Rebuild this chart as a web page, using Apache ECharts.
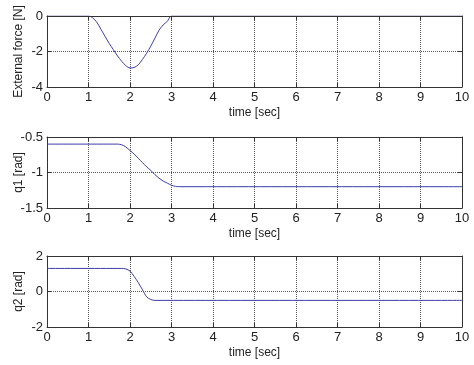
<!DOCTYPE html>
<html>
<head>
<meta charset="utf-8">
<script src="https://cdn.jsdelivr.net/npm/echarts@6/dist/echarts.min.js"></script>
<style>
  html, body { margin: 0; padding: 0; background: #fff; }
  #chart { width: 474px; height: 365px; }
</style>
</head>
<body>
<div id="chart"></div>
<script>
// external force [N]
const forceTime = [0, 1.0, 1.1, 1.2, 1.3, 1.4, 1.5, 1.6, 1.7, 1.8, 1.9, 2.0, 2.1, 2.2, 2.3, 2.4, 2.5, 2.6, 2.7, 2.8, 2.9, 3.0, 10];
const forceValues = [0, 0, -0.1, -0.35, -0.75, -1.15, -1.55, -1.9, -2.25, -2.55, -2.8, -2.93, -2.9, -2.75, -2.45, -2.1, -1.7, -1.25, -0.8, -0.5, -0.3, 0, 0];

// joint 1 [rad]
const q1Time = [0, 1.7, 1.8, 1.9, 2.0, 2.1, 2.2, 2.3, 2.4, 2.5, 2.6, 2.7, 2.8, 2.9, 3.0, 3.1, 3.2, 10];
const q1Values = [-0.6, -0.6, -0.61, -0.64, -0.69, -0.74, -0.8, -0.86, -0.92, -0.97, -1.03, -1.08, -1.12, -1.15, -1.18, -1.195, -1.2, -1.2];

// joint 2 [rad]
const q2Time = [0, 1.8, 1.9, 2.0, 2.1, 2.2, 2.3, 2.4, 2.5, 2.6, 10];
const q2Values = [1.3, 1.3, 1.27, 1.15, 0.85, 0.5, 0.1, -0.3, -0.45, -0.5, -0.5];

const panels = [
  { name: "External force [N]", time: forceTime, values: forceValues, min: -4, max: 0, interval: 2 },
  { name: "q1 [rad]", time: q1Time, values: q1Values, min: -1.5, max: -0.5, interval: 0.5 },
  { name: "q2 [rad]", time: q2Time, values: q2Values, min: -2, max: 2, interval: 2 },
];

const gridTops = [16, 137, 256];
const textColor = "#222";
const lineColor = "#333";
const font = "Liberation Sans, Arial, sans-serif";

const chart = echarts.init(document.getElementById("chart"));

const grid = [];
const xAxis = [];
const yAxis = [];
const series = [];

panels.forEach((p, i) => {
  grid.push({ left: 47, right: 12, top: gridTops[i], height: 71, outerBoundsMode: "none", containLabel: false });

  // bottom x axis
  xAxis.push({
    type: "value",
    gridIndex: i,
    position: "bottom",
    min: 0,
    max: 10,
    interval: 1,
    name: "time [sec]",
    nameLocation: "middle",
    nameGap: 20,
    nameMoveOverlap: false,
    nameTextStyle: { color: textColor, fontSize: 12, fontFamily: font },
    axisLine: { onZero: false, lineStyle: { color: lineColor, width: 1 } },
    axisTick: { inside: true, length: 4, lineStyle: { color: lineColor } },
    axisLabel: { color: textColor, fontSize: 13, fontFamily: font, margin: 4 },
    splitLine: { show: true, lineStyle: { color: "#555", type: "dotted", width: 1 } },
  });
  // top x axis (box)
  xAxis.push({
    type: "value",
    gridIndex: i,
    position: "top",
    min: 0,
    max: 10,
    interval: 1,
    z: 5,
    axisLine: { onZero: false, lineStyle: { color: lineColor, width: 1 } },
    axisTick: { inside: true, length: 4, lineStyle: { color: lineColor } },
    axisLabel: { show: false },
    splitLine: { show: false },
  });

  // left y axis
  yAxis.push({
    type: "value",
    gridIndex: i,
    position: "left",
    min: p.min,
    max: p.max,
    interval: p.interval,
    name: p.name,
    nameLocation: "middle",
    nameRotate: 90,
    nameGap: 22,
    nameMoveOverlap: false,
    nameTextStyle: { color: textColor, fontSize: 12, fontFamily: font },
    axisLine: { show: true, onZero: false, lineStyle: { color: lineColor, width: 1 } },
    axisTick: { show: true, inside: true, length: 4, lineStyle: { color: lineColor } },
    axisLabel: { color: textColor, fontSize: 13, fontFamily: font, margin: 4 },
    splitLine: { show: true, lineStyle: { color: "#555", type: "dotted", width: 1 } },
  });
  // right y axis (box)
  yAxis.push({
    type: "value",
    gridIndex: i,
    position: "right",
    min: p.min,
    max: p.max,
    interval: p.interval,
    axisLine: { show: true, onZero: false, lineStyle: { color: lineColor, width: 1 } },
    axisTick: { show: true, inside: true, length: 4, lineStyle: { color: lineColor } },
    axisLabel: { show: false },
    splitLine: { show: false },
  });

  series.push({
    type: "line",
    xAxisIndex: i * 2,
    yAxisIndex: i * 2,
    data: p.time.map((t, k) => [t, p.values[k]]),
    showSymbol: false,
    smooth: 0.3,
    lineStyle: { color: "#3c3ca8", width: 1 },
    z: 2,
  });
});

chart.setOption({
  backgroundColor: "#fff",
  animation: false,
  grid,
  xAxis,
  yAxis,
  series,
});
</script>
</body>
</html>
